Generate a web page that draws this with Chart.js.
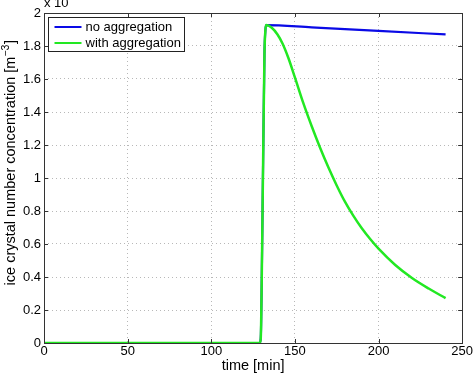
<!DOCTYPE html>
<html>
<head>
<meta charset="utf-8">
<script src="https://cdn.jsdelivr.net/npm/chart.js@4"></script>
<style>
  html, body { margin: 0; padding: 0; background: #fff; }
  #wrap { width: 474px; height: 376px; position: relative; }
</style>
</head>
<body>
<div id="wrap"><canvas id="iceChart"></canvas></div>
<script>
// time axis [min] and concentration values (scaled by the "x 10^n" factor)
const timeNoAgg = [0, 129, 129.6, 130.2, 131, 131.8, 132.4, 132.9, 160, 200, 240.1];
const valuesNoAgg = [0, 0, 0.03, 0.4, 1.1, 1.75, 1.9, 1.927, 1.913, 1.892, 1.87];

const timeAgg = [0, 129, 129.6, 130.2, 131, 131.8, 132.4, 132.9, 136, 139.6, 142.6, 146, 150,
  155, 160, 165, 170, 175, 180, 185, 190, 195, 200, 210, 220, 230, 240.1];
const valuesAgg = [0, 0, 0.03, 0.4, 1.1, 1.75, 1.9, 1.927, 1.912, 1.87, 1.815, 1.73, 1.61,
  1.455, 1.315, 1.185, 1.065, 0.955, 0.855, 0.77, 0.695, 0.63, 0.572, 0.473, 0.394, 0.33, 0.272];

const seriesLabels = ['no aggregation', 'with aggregation'];
const seriesColors = ['#0a0ae6', '#22e822'];

const xTicks = [0, 50, 100, 150, 200, 250];
const yTicks = [0, 0.2, 0.4, 0.6, 0.8, 1, 1.2, 1.4, 1.6, 1.8, 2];

const toPoints = (xs, ys) => xs.map((x, i) => ({ x: x, y: ys[i] }));

const FONT = 'Arial, "Liberation Sans", Helvetica, sans-serif';

// matlab-ish frame, inner ticks, legend box, y label and exponent label
const matlabDecor = {
  id: 'matlabDecor',
  afterDraw(chart) {
    const ctx = chart.ctx;
    const area = chart.chartArea;
    const xs = chart.scales.x;
    const ys = chart.scales.y;
    const tickLen = 4;
    ctx.save();
    ctx.strokeStyle = '#333';
    ctx.lineWidth = 1;
    ctx.beginPath();
    xTicks.forEach(v => {
      const px = Math.round(xs.getPixelForValue(v)) + 0.5;
      ctx.moveTo(px, area.bottom); ctx.lineTo(px, area.bottom - tickLen);
      ctx.moveTo(px, area.top); ctx.lineTo(px, area.top + tickLen);
    });
    yTicks.forEach(v => {
      const py = Math.round(ys.getPixelForValue(v)) + 0.5;
      ctx.moveTo(area.left, py); ctx.lineTo(area.left + tickLen, py);
      ctx.moveTo(area.right, py); ctx.lineTo(area.right - tickLen, py);
    });
    ctx.stroke();
    ctx.strokeRect(Math.round(area.left) + 0.5, Math.round(area.top) + 0.5,
      Math.round(area.right - area.left), Math.round(area.bottom - area.top));

    // legend
    const bx = area.left + 4.5, by = area.top + 4.5, bw = 136, bh = 34;
    ctx.fillStyle = '#fff';
    ctx.fillRect(bx, by, bw, bh);
    ctx.strokeStyle = '#222';
    ctx.strokeRect(bx, by, bw, bh);
    ctx.font = '13px ' + FONT;
    ctx.textBaseline = 'middle';
    seriesLabels.forEach((lab, i) => {
      const ry = by + 9.5 + i * 16;
      ctx.strokeStyle = seriesColors[i];
      ctx.lineWidth = 2;
      ctx.beginPath();
      ctx.moveTo(bx + 6, ry); ctx.lineTo(bx + 33, ry);
      ctx.stroke();
      ctx.fillStyle = '#000';
      ctx.fillText(lab, bx + 37, ry);
    });

    // exponent label, cut at top like the original
    ctx.fillStyle = '#000';
    ctx.textBaseline = 'alphabetic';
    ctx.textAlign = 'left';
    ctx.fillText('x 10', area.left, 7);

    // y axis label with superscript unit
    const main = 'ice crystal number concentration [m';
    const sup = '\u22123';
    const tail = ']';
    const bigFont = '14.5px ' + FONT;
    const smallFont = '10.5px ' + FONT;
    ctx.font = bigFont;
    const wMain = ctx.measureText(main).width;
    const wTail = ctx.measureText(tail).width;
    ctx.font = smallFont;
    const wSup = ctx.measureText(sup).width;
    const total = wMain + wSup + wTail;
    ctx.translate(15, 163);
    ctx.rotate(-Math.PI / 2);
    let x0 = -total / 2;
    ctx.font = bigFont;
    ctx.fillText(main, x0, 0);
    ctx.font = smallFont;
    ctx.fillText(sup, x0 + wMain, -6);
    ctx.font = bigFont;
    ctx.fillText(tail, x0 + wMain + wSup + 0.5, 0);
    ctx.restore();
  }
};

new Chart(document.getElementById('iceChart'), {
  type: 'line',
  data: {
    datasets: [
      {
        label: seriesLabels[0],
        data: toPoints(timeNoAgg, valuesNoAgg),
        borderColor: seriesColors[0],
        borderWidth: 2.2,
        pointRadius: 0,
        cubicInterpolationMode: 'monotone',
        order: 1
      },
      {
        label: seriesLabels[1],
        data: toPoints(timeAgg, valuesAgg),
        borderColor: seriesColors[1],
        borderWidth: 2.5,
        pointRadius: 0,
        cubicInterpolationMode: 'monotone',
        order: 0
      }
    ]
  },
  options: {
    responsive: true,
    maintainAspectRatio: false,
    animation: false,
    layout: { padding: { top: 13, right: 11, left: 0, bottom: 0 } },
    plugins: { legend: { display: false }, tooltip: { enabled: false } },
    scales: {
      x: {
        type: 'linear',
        min: 0,
        max: 250,
        afterBuildTicks: s => { s.ticks = xTicks.map(v => ({ value: v })); },
        afterFit: s => { s.height = 33; },
        ticks: { color: '#000', padding: 1, font: { family: FONT, size: 13 }, maxRotation: 0 },
        grid: { color: '#b8b8b8', drawTicks: false },
        border: { display: false, dash: [1, 3] },
        title: { display: true, text: 'time [min]', color: '#000', font: { family: FONT, size: 14.5 }, padding: { top: 0, bottom: 1 } }
      },
      y: {
        min: 0,
        max: 2,
        afterBuildTicks: s => { s.ticks = yTicks.map(v => ({ value: v })); },
        afterFit: s => { s.width = 44; },
        ticks: {
          color: '#000',
          padding: 3,
          font: { family: FONT, size: 13 },
          callback: v => String(Math.round(v * 10) / 10)
        },
        grid: { color: '#b8b8b8', drawTicks: false },
        border: { display: false, dash: [1, 3] },
        title: { display: false }
      }
    }
  },
  plugins: [matlabDecor]
});
</script>
</body>
</html>
